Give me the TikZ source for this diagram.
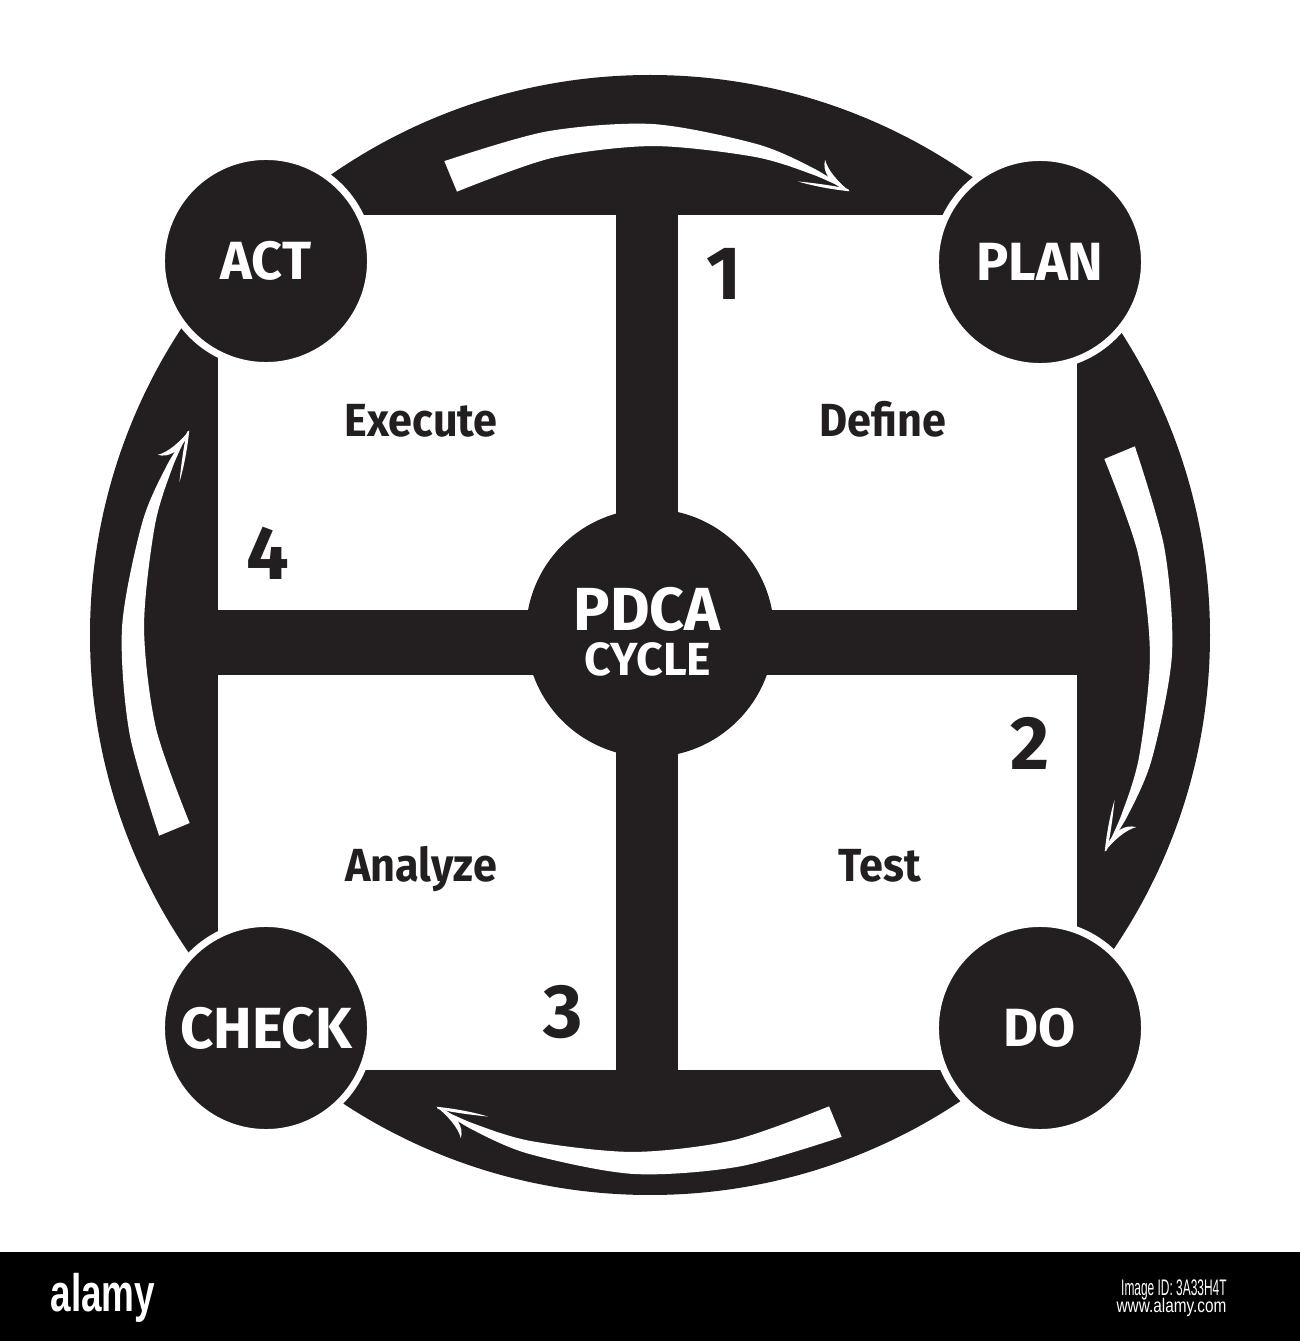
\documentclass[tikz,border=0pt]{standalone}
\usepackage{fontspec}
\setmainfont{Fira Sans}
\newfontfamily\wmfont{Liberation Sans}
\definecolor{ink}{RGB}{35,31,32}
\begin{document}
\begin{tikzpicture}[x=0.01cm,y=0.01cm,
  stagec/.style={circle,fill=ink,draw=white,line width=0.07cm,minimum size=2.09cm,inner sep=0pt,text=white,font=\bfseries\fontsize{15.3}{18}\selectfont},
  hubc/.style={circle,fill=ink,minimum size=2.48cm,inner sep=0pt},
  hubtext/.style={text=white,inner sep=0pt,font=\bfseries\fontsize{#1}{#1}\selectfont},
  quadlabel/.style={anchor=base,inner sep=0pt,text=ink,xscale=0.93,font=\bfseries\fontsize{13.2}{16}\selectfont},
  numlabel/.style={anchor=base,inner sep=0pt,text=ink,font=\bfseries\fontsize{21.5}{24}\selectfont},
  quad/.style={fill=white},
  swoosh/.style={fill=white}]
\useasboundingbox (0,0) rectangle (1300,1341);
\fill[white] (0,0) rectangle (1300,1341);
% ring disc
\fill[ink] (650,706) circle[radius=560];
% quadrants
\fill[quad] (218,731) rectangle (616,1126);
\fill[quad] (678,731) rectangle (1077,1126);
\fill[quad] (218,271) rectangle (616,666);
\fill[quad] (678,271) rectangle (1077,666);
% cycle arrows
\foreach \p/\dx/\dy in {90/0/0, 0/2/0, -90/-6/-2, 180/0/14}{
\begin{scope}[shift={(646+\dx,693+\dy)}]
  \fill[swoosh] plot[smooth] coordinates {(\p+22.5:527) (\p+10.9:526) (\p-0.75:524) (\p-12.4:516) (\p-19.35:508) (\p-24:500)}
     -- plot[smooth] coordinates {(\p-24:500) (\p-19.35:502) (\p-12.4:503) (\p-0.75:502) (\p+10.9:499) (\p+22.5:494)} -- cycle;
  \begin{scope}[shift={(\p-24:500)},rotate=\p-114]
    \fill[swoosh] (0,0) .. controls (-14,4) and (-28,10) .. (-35,19) .. controls (-33,7) and (-22,0) .. (-6,-0.5) -- cycle;
    \fill[swoosh] (0,0) .. controls (-15,-5) and (-35,-10) .. (-51,-12) .. controls (-36,-7) and (-16,-1) .. (-2,1.5) -- cycle;
  \end{scope}
\end{scope}
}
% stage circles
\node[stagec] (act) at (266,1080) {ACT};
\node[stagec] (plan) at (1040,1079) {PLAN};
\node[stagec] (do) at (1040,313) {DO};
\node[stagec,font=\bfseries\fontsize{16.5}{18}\selectfont] (check) at (266,313) {CHECK};
% hub
\node[hubc] (hub) at (650,708) {};
\node[hubtext=17.3] (pdca) at (647,732) {PDCA};
\node[hubtext=13.2] (cycle) at (648,682) {CYCLE};
% quadrant labels
\node[quadlabel] (execute) at (421,904) {Execute};
\node[quadlabel] (define) at (883,904) {Define};
\node[quadlabel] (analyze) at (421,459) {Analyze};
\node[quadlabel] (test) at (880,459) {Test};
\node[numlabel] (n1) at (724,1041) {1};
\node[numlabel] (n2) at (1030,571) {2};
\node[numlabel] (n3) at (563,304) {3};
\node[numlabel] (n4) at (268,761) {4};
% bottom bar
\fill[black] (0,0) rectangle (1300,89);
\node[anchor=base west,inner sep=0pt,text=white,xscale=0.7,font=\wmfont\bfseries\fontsize{15}{15}\selectfont] (logo) at (50,30) {alamy};
\node[anchor=base east,inner sep=0pt,text=white,xscale=0.53,font=\wmfont\fontsize{6.4}{7}\selectfont] (imgid) at (1227,45) {Image ID: 3A33H4T};
\node[anchor=base east,inner sep=0pt,text=white,xscale=0.78,font=\wmfont\fontsize{5.6}{6}\selectfont] (www) at (1227,28) {www.alamy.com};
\end{tikzpicture}
\end{document}
